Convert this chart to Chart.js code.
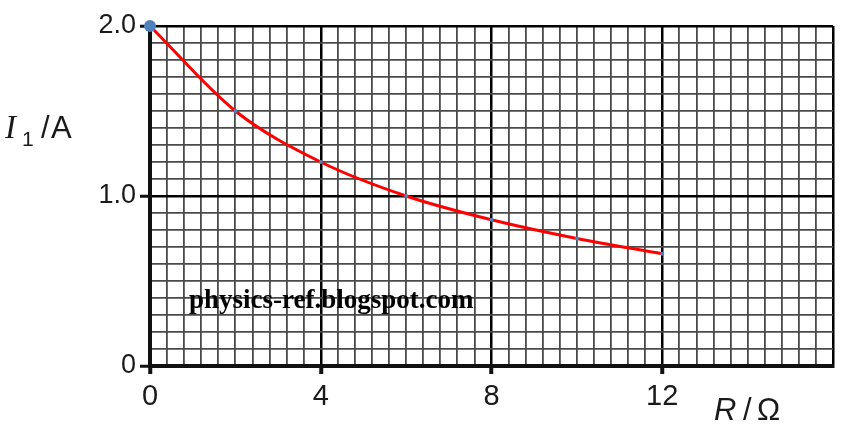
<!DOCTYPE html>
<html>
<head>
<meta charset="utf-8">
<script src="https://cdn.jsdelivr.net/npm/chart.js@4"></script>
<style>
    body { margin: 0; background: #fff; }
    #wrap { width: 841px; height: 424px; position: relative; }
</style>
</head>
<body>
<div id="wrap"><canvas id="myChart"></canvas></div>
<script>
// Readings taken off the graph
const resistance = [0, 2, 4, 6, 8, 10, 12];
const current = [2.0, 1.5, 1.2, 1.0, 0.86, 0.75, 0.66];
const xTickLabels = [0, 4, 8, 12];
const yTickLabels = {0: '0', 1: '1.0', 2: '2.0'};

const textColor = '#1a1a1a';

function isMajorX(v) {
    return Math.round(v * 10) % 40 === 0;
}
function isMajorY(v) {
    return Math.round(v * 10) % 10 === 0;
}
function xLabel(v) {
    const r = Math.round(v * 10) / 10;
    return xTickLabels.includes(r) ? String(r) : '';
}
function yLabel(v) {
    const r = Math.round(v * 10) / 10;
    return yTickLabels[r] !== undefined ? yTickLabels[r] : '';
}

// Axis titles and the watermark, drawn as text on top
const textPlugin = {
    id: 'texts',
    afterDraw(chart) {
        const ctx = chart.ctx;
        ctx.save();
        ctx.fillStyle = textColor;
        ctx.textBaseline = 'alphabetic';
        ctx.textAlign = 'left';
        // I1 / A
        ctx.font = 'italic 33px "Liberation Serif", serif';
        ctx.fillText('I', 5, 138);
        ctx.font = '21px "Liberation Sans", Arial, sans-serif';
        ctx.fillText('1', 22, 146);
        ctx.font = '31px "Liberation Sans", Arial, sans-serif';
        ctx.fillText('/', 41, 138);
        ctx.fillText('A', 51, 138);
        // R / Ω
        ctx.font = 'italic 31px "Liberation Sans", Arial, sans-serif';
        ctx.fillText('R', 714, 420);
        ctx.font = '31px "Liberation Sans", Arial, sans-serif';
        ctx.fillText('/', 743, 420);
        ctx.fillText('Ω', 757, 420);
        // watermark
        ctx.fillStyle = '#000';
        ctx.font = 'bold 27px "Liberation Serif", "Times New Roman", serif';
        ctx.fillText('physics-ref.blogspot.com', 189, 308);
        ctx.restore();
    }
};

const points = resistance.map((r, i) => ({x: r, y: current[i]}));

const config = {
    type: 'line',
    data: {
        datasets: [{
            data: points,
            borderColor: '#ff0000',
            borderWidth: 3,
            cubicInterpolationMode: 'monotone',
            pointRadius: points.map((p, i) => i === 0 ? 6 : 2),
            pointBackgroundColor: '#4f81bd',
            pointBorderWidth: 0,
            clip: false
        }]
    },
    options: {
        responsive: true,
        maintainAspectRatio: false,
        animation: false,
        layout: {
            padding: {left: 0, top: 26, right: 8, bottom: 0}
        },
        plugins: {
            legend: {display: false},
            tooltip: {enabled: false}
        },
        scales: {
            x: {
                type: 'linear',
                min: 0,
                max: 16,
                afterFit: scale => { scale.height = 58; },
                border: {color: '#111', width: 4},
                grid: {
                    color: ctx => isMajorX(ctx.tick.value) ? '#000' : '#4a4a4a',
                    lineWidth: ctx => isMajorX(ctx.tick.value) ? 2.5 : 1.8,
                    drawTicks: true,
                    tickLength: 8,
                    tickWidth: 4,
                    tickColor: ctx => xLabel(ctx.tick.value) !== '' ? '#111' : 'rgba(0,0,0,0)'
                },
                ticks: {
                    stepSize: 0.4,
                    maxTicksLimit: 100,
                    autoSkip: false,
                    maxRotation: 0,
                    padding: 6,
                    color: textColor,
                    font: {family: '"Liberation Sans", Arial, sans-serif', size: 29},
                    callback: v => xLabel(v)
                }
            },
            y: {
                type: 'linear',
                min: 0,
                max: 2,
                afterFit: scale => { scale.width = 150; },
                border: {color: '#111', width: 4},
                grid: {
                    color: ctx => isMajorY(ctx.tick.value) ? '#000' : '#4a4a4a',
                    lineWidth: ctx => isMajorY(ctx.tick.value) ? 2.5 : 1.8,
                    drawTicks: true,
                    tickLength: 10,
                    tickWidth: 3,
                    tickColor: ctx => yLabel(ctx.tick.value) !== '' ? '#111' : 'rgba(0,0,0,0)'
                },
                ticks: {
                    stepSize: 0.1,
                    maxTicksLimit: 100,
                    autoSkip: false,
                    padding: 4,
                    color: textColor,
                    font: {family: '"Liberation Sans", Arial, sans-serif', size: 27},
                    callback: v => yLabel(v)
                }
            }
        }
    },
    plugins: [textPlugin]
};

const chart = new Chart(document.getElementById('myChart'), config);
</script>
</body>
</html>
